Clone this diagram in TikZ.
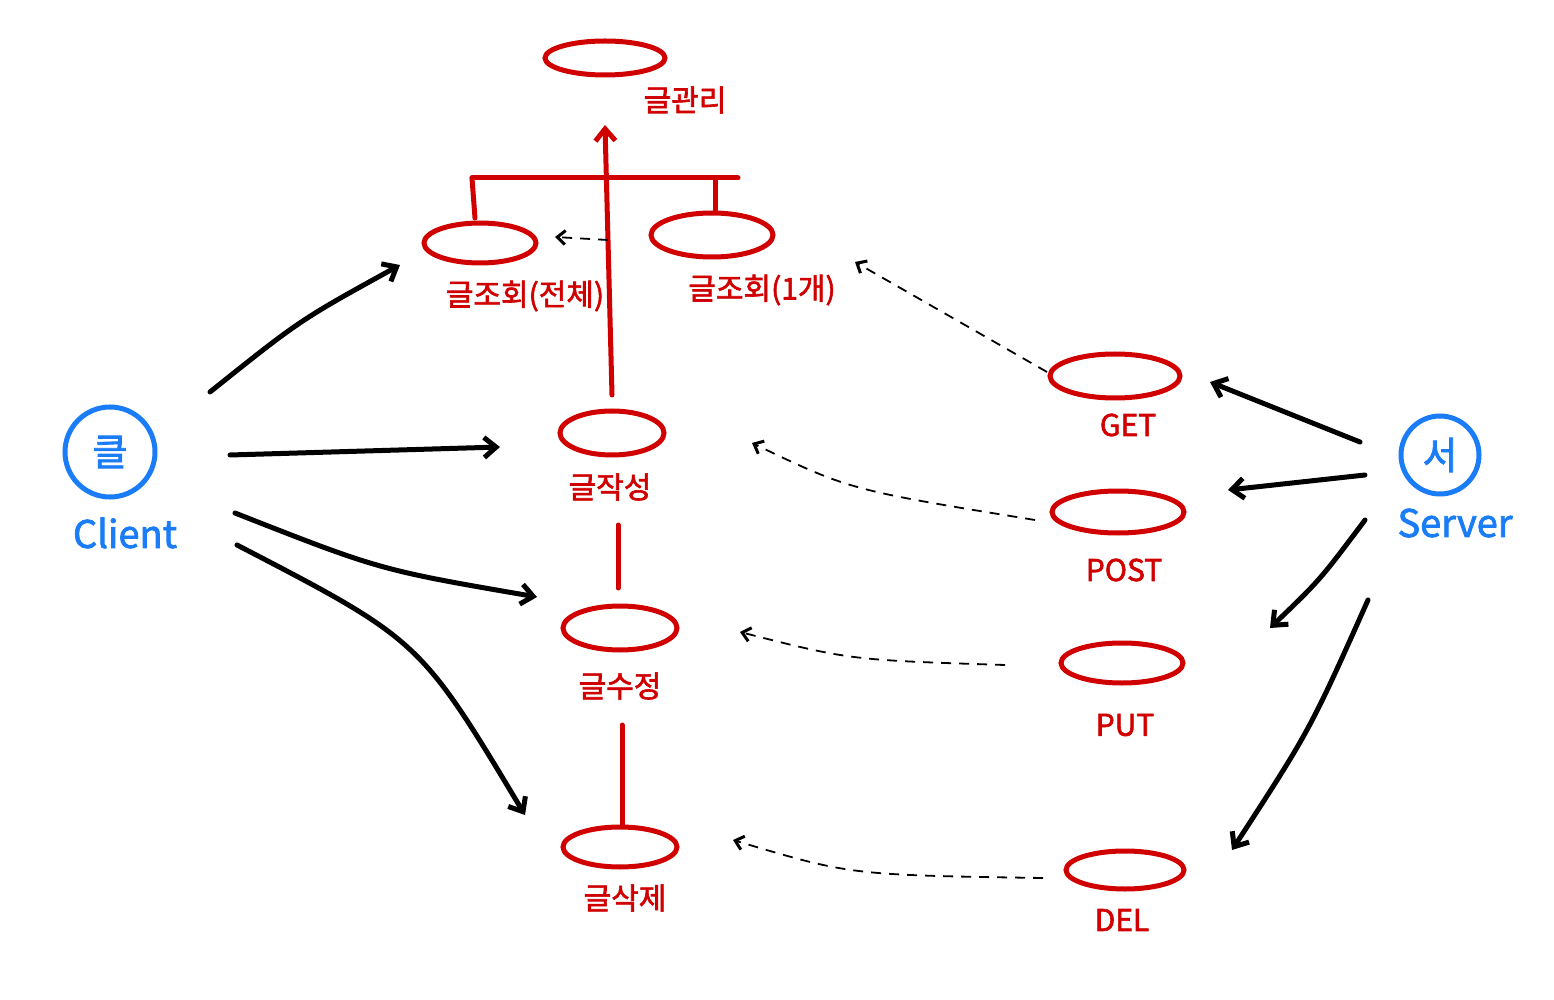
\documentclass[tikz,border=0pt]{standalone}
\usepackage{fontspec}
\setmainfont{Noto Sans CJK KR}[AutoFakeBold=2]
\usetikzlibrary{arrows.meta,shapes.geometric}
\definecolor{rd}{HTML}{D00000}
\definecolor{bl}{HTML}{1A7CF7}
\begin{document}
\begin{tikzpicture}[x=0.5pt,y=-0.5pt,
 ov/.style={draw=rd,line width=2.5pt,ellipse,inner sep=0pt},
 lbl/.style={text=rd,font=\bfseries\fontsize{15}{15}\selectfont},
 blbl/.style={text=bl,font=\bfseries\fontsize{19}{19}\selectfont},
 arr/.style={draw=black,line width=2.5pt,-{Straight Barb[length=6pt,width=10pt]},line cap=round},
 dar/.style={draw=black,line width=0.9pt,dash pattern=on 5pt off 4pt,-{Straight Barb[length=4pt,width=7pt,line width=1.5pt]}},
 rl/.style={draw=rd,line width=2.5pt,line cap=round}]
\useasboundingbox (0,0) rectangle (1554,1000);
% nodes
\node[ov,minimum width=60pt,minimum height=17pt] (top) at (605,58) {};
\node[lbl] (topl) at (685,100) {글관리};
\node[ov,minimum width=56pt,minimum height=20pt] (all) at (480,243) {};
\node[lbl] (alll) at (525,296) {글조회(전체)};
\node[ov,minimum width=61pt,minimum height=22pt] (one) at (712,235) {};
\node[lbl] (onel) at (762,290) {글조회(1개)};
\node[ov,minimum width=52pt,minimum height=22pt] (wr) at (612,433) {};
\node[lbl] (wrl) at (610,487) {글작성};
\node[ov,minimum width=57pt,minimum height=22pt] (ed) at (620,628) {};
\node[lbl] (edl) at (620,686) {글수정};
\node[ov,minimum width=57pt,minimum height=20pt] (dl) at (620,847) {};
\node[lbl] (dll) at (625,898) {글삭제};
\node[ov,minimum width=65pt,minimum height=22pt] (get) at (1115,376) {};
\node[lbl] (getl) at (1128,425) {GET};
\node[ov,minimum width=66pt,minimum height=21pt] (post) at (1118,512) {};
\node[lbl] (postl) at (1124,570) {POST};
\node[ov,minimum width=61pt,minimum height=20pt] (put) at (1122,663) {};
\node[lbl] (putl) at (1125,725) {PUT};
\node[ov,minimum width=59pt,minimum height=19pt] (del) at (1125,870) {};
\node[lbl] (dell) at (1122,920) {DEL};
\node[draw=bl,line width=2.5pt,circle,minimum size=45pt,inner sep=0pt,text=bl,font=\bfseries\fontsize{19}{19}\selectfont] (cl) at (110,452) {클};
\node[blbl] (cll) at (125,533) {Client};
\node[draw=bl,line width=2.5pt,circle,minimum size=39pt,inner sep=0pt,text=bl,font=\bfseries\fontsize{19}{19}\selectfont] (sv) at (1440,455) {서};
\node[blbl] (svl) at (1455,523) {Server};
% tree
\coordinate (ta) at (612,395); \coordinate (tb) at (605,125);
\draw[rl,-{Straight Barb[length=6pt,width=10pt]}] (ta) -- (tb);
\coordinate (h1) at (472,178); \coordinate (h2) at (738,178);
\draw[rl] (h1) -- (h2);
\coordinate (k1) at (475,218); \coordinate (k2) at (715,178); \coordinate (k3) at (715,210);
\draw[rl] (h1) -- (k1); \draw[rl] (k2) -- (k3);
\coordinate (a1) at (618,525); \coordinate (a2) at (618,588);
\coordinate (b1) at (622,725); \coordinate (b2) at (622,825);
\draw[rl] (a1) -- (a2); \draw[rl] (b1) -- (b2);
% client arrows
\coordinate (c1) at (210,392); \coordinate (e1) at (400,265);
\coordinate (c2) at (230,455); \coordinate (e2) at (500,447);
\coordinate (c3) at (235,513); \coordinate (e3) at (537,597);
\coordinate (c4) at (237,545); \coordinate (e4) at (525,815);
\draw[arr] (c1) .. controls (300,320) .. (e1);
\draw[arr] (c2) -- (e2);
\draw[arr] (c3) .. controls (380,570) .. (e3);
\draw[arr] (c4) .. controls (420,640) .. (e4);
% server arrows
\coordinate (s1) at (1360,442); \coordinate (f1) at (1210,382);
\coordinate (s2) at (1365,475); \coordinate (f2) at (1228,490);
\coordinate (s3) at (1365,520); \coordinate (f3) at (1270,628);
\coordinate (s4) at (1368,600); \coordinate (f4) at (1232,850);
\draw[arr] (s1) -- (f1);
\draw[arr] (s2) -- (f2);
\draw[arr] (s3) .. controls (1320,580) .. (f3);
\draw[arr] (s4) .. controls (1310,730) .. (f4);
% dashed
\coordinate (g1) at (1047,372); \coordinate (g2) at (855,262);
\coordinate (p1) at (1035,520); \coordinate (p2) at (752,443);
\coordinate (u1) at (1005,665); \coordinate (u2) at (740,632);
\coordinate (d1) at (1043,878); \coordinate (d2) at (733,840);
\coordinate (o1) at (608,240); \coordinate (o2) at (555,237);
\draw[dar] (g1) -- (g2);
\draw[dar] (p1) .. controls (850,490) .. (p2);
\draw[dar] (u1) .. controls (850,660) .. (u2);
\draw[dar] (d1) .. controls (850,875) .. (d2);
\draw[dar] (o1) -- (o2);
\end{tikzpicture}
\end{document}
